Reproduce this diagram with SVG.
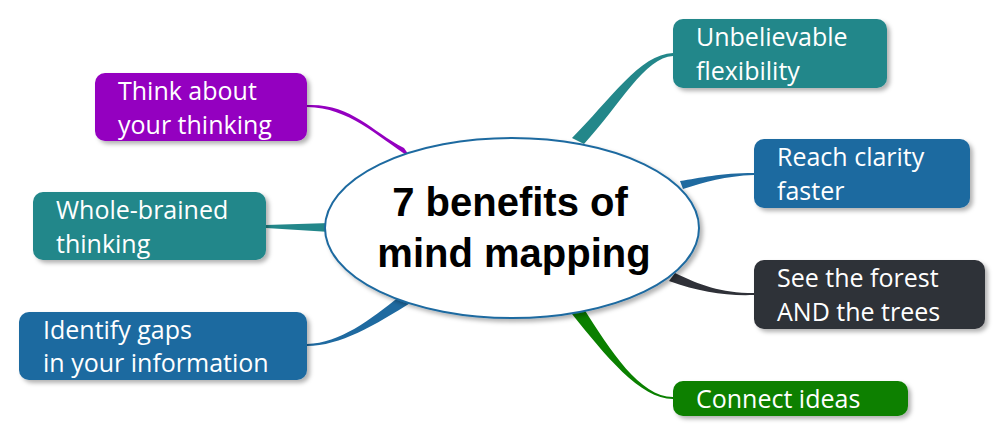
<svg xmlns="http://www.w3.org/2000/svg" width="1006" height="437" viewBox="0 0 1006 437">
<defs>
<filter id="sh" x="-10%" y="-10%" width="130%" height="140%"><feDropShadow dx="3" dy="3" stdDeviation="2" flood-color="#000" flood-opacity="0.3"/></filter>
</defs>
<style>
.n{font-family:"Open Sans","Liberation Sans",sans-serif;font-size:25px;fill:#fff}
.c{font-family:"Liberation Sans",sans-serif;font-weight:bold;font-size:40px;fill:#000;text-anchor:middle}
</style>
<rect width="1006" height="437" fill="#fff"/>
<g id="connectors">
<path d="M307,105 C350,103 370,130 404,148 L411,158 C375,135 350,108 307,107 Z" fill="#9400C0"/>
<path d="M266,225 L330,223 L330,232 L266,228 Z" fill="#23878A"/>
<path d="M307,344 C340,343 370,320 400,296 L412,302 C375,325 340,346 307,346 Z" fill="#1F6AA0"/>
<path d="M673,53 C640,54 610,100 572,138 L584,144 C620,105 645,57 673,56 Z" fill="#23878A"/>
<path d="M754,173 C720,173 700,178 680,181 L683,189 C705,182 725,176 754,175 Z" fill="#1F6AA0"/>
<path d="M754,293 C720,293 700,285 675,273 L669,281 C700,292 725,296 754,295 Z" fill="#2F3138"/>
<path d="M673,397 C640,397 610,350 584,309 L572,314 C605,355 640,399 673,399 Z" fill="#0A8000"/>
</g>
<g id="center">
<ellipse cx="512" cy="228" rx="187" ry="90" fill="#fff" stroke="#1F6AA0" stroke-width="2" filter="url(#sh)"/>
<text class="c" x="510" y="216">7 benefits of</text>
<text class="c" x="514" y="267">mind mapping</text>
</g>
<g id="n1"><rect x="95" y="73" width="212" height="68" rx="10" fill="#9400C0" filter="url(#sh)"/><text class="n" x="118" y="100">Think about</text><text class="n" x="118" y="134">your thinking</text></g>
<g id="n2"><rect x="33" y="192" width="233" height="68" rx="10" fill="#23878A" filter="url(#sh)"/><text class="n" x="56" y="219">Whole-brained</text><text class="n" x="56" y="253">thinking</text></g>
<g id="n3"><rect x="19" y="312" width="288" height="68" rx="10" fill="#1F6AA0" filter="url(#sh)"/><text class="n" x="43" y="339">Identify gaps</text><text class="n" x="43" y="372">in your information</text></g>
<g id="n4"><rect x="673" y="19" width="214" height="69" rx="10" fill="#23878A" filter="url(#sh)"/><text class="n" x="696" y="46">Unbelievable</text><text class="n" x="696" y="80">flexibility</text></g>
<g id="n5"><rect x="754" y="139" width="216" height="69" rx="10" fill="#1F6AA0" filter="url(#sh)"/><text class="n" x="777" y="166">Reach clarity</text><text class="n" x="777" y="200">faster</text></g>
<g id="n6"><rect x="754" y="260" width="231" height="69" rx="10" fill="#2F3138" filter="url(#sh)"/><text class="n" x="777" y="287">See the forest</text><text class="n" x="777" y="321">AND the trees</text></g>
<g id="n7"><rect x="673" y="381" width="235" height="35" rx="10" fill="#0A8000" filter="url(#sh)"/><text class="n" x="696" y="408">Connect ideas</text></g>
</svg>
